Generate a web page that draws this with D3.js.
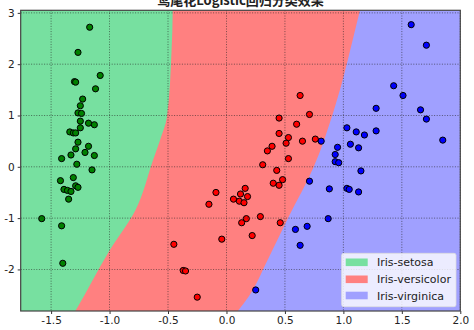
<!DOCTYPE html>
<html>
<head>
<meta charset="utf-8">
<script src="https://cdn.jsdelivr.net/npm/d3@7"></script>
<style>
  html, body { margin: 0; padding: 0; background: #fff; }
  svg { display: block; }
</style>
</head>
<body>
<svg id="chart" width="474" height="330"></svg>
<script>
// ---------------- data ----------------
const titleText = "鸢尾花Logistic回归分类效果";
const classNames = ["Iris-setosa", "Iris-versicolor", "Iris-virginica"];
const regionColors = ["#77E0A0", "#FF8080", "#A0A0FF"];
const pointColors = ["#008000", "#FF0000", "#0000FF"];

const xTicks = [-1.5, -1.0, -0.5, 0.0, 0.5, 1.0, 1.5, 2.0];
const yTicks = [-2, -1, 0, 1, 2, 3];

const setosaX = [-1.17,-1.27,-1.08,-1.30,-1.29,-1.12,-1.23,-1.25,-1.27,-1.24,-1.25,-1.18,-1.13,-1.25,-1.34,-1.31,-1.29,-1.27,-1.18,-1.29,-1.21,-1.33,-1.13,-1.41,-1.28,-1.15,-1.42,-1.31,-1.39,-1.36,-1.33,-1.29,-1.27,-1.35,-1.58,-1.41,-1.40];
const setosaY = [2.72,2.23,1.78,1.66,1.65,1.52,1.32,1.19,1.05,1.04,0.89,0.85,0.82,0.76,0.68,0.66,0.66,0.48,0.40,0.35,0.28,0.23,0.22,0.16,0.05,-0.06,-0.27,-0.21,-0.44,-0.46,-0.48,-0.37,-0.40,-0.63,-1.01,-1.15,-1.88];

const versicolorX = [0.63,0.71,0.45,0.60,0.45,0.53,0.51,0.65,0.76,0.39,0.35,0.53,0.31,0.43,0.48,0.40,0.45,0.16,-0.09,0.12,0.18,0.06,0.11,0.15,-0.15,0.29,0.17,0.13,0.46,-0.04,0.22,-0.45,-0.37,-0.35,-0.25];
const versicolorY = [1.39,1.02,0.95,0.83,0.65,0.57,0.46,0.50,0.54,0.40,0.31,0.16,0.04,-0.07,-0.25,-0.32,-0.36,-0.42,-0.50,-0.53,-0.58,-0.63,-0.67,-0.70,-0.73,-0.97,-1.01,-1.09,-1.09,-1.41,-1.34,-1.51,-2.02,-2.03,-2.54];

const virginicaX = [1.58,1.71,1.43,1.51,1.28,1.66,1.71,1.03,1.11,1.18,1.28,1.85,0.81,0.95,1.06,1.13,0.93,0.93,0.96,1.15,0.71,0.88,1.03,1.05,1.13,0.87,0.59,0.69,0.63,0.25];
const virginicaY = [2.77,2.37,1.58,1.39,1.14,1.11,0.93,0.76,0.68,0.62,0.70,0.52,0.50,0.38,0.44,0.37,0.24,0.10,0.08,-0.08,-0.28,-0.43,-0.42,-0.44,-0.49,-1.01,-1.22,-1.16,-1.53,-2.40];

// decision boundaries (x position of the boundary at each y)
const boundary1Y = [3.3, 3.03, 2.25, 0.96, 0.51, 0.12, -0.85, -1.63, -2.80, -3.1];
const boundary1X = [-0.46, -0.46, -0.47, -0.51, -0.57, -0.63, -0.78, -1.00, -1.29, -1.37];
const boundary2Y = [3.3, 3.03, 1.09, -0.01, -0.98, -1.82, -2.53, -2.80, -3.1];
const boundary2X = [1.17, 1.14, 0.917, 0.745, 0.531, 0.351, 0.189, 0.10, 0.0];

// ---------------- layout ----------------
const svg = d3.select("#chart");
const pLeft = 20.7, pRight = 460.3, pTop = 10.3, pBottom = 311;
const xDomain = [-1.76, 2.0];
const yDomain = [-2.81, 3.05];
const x = d3.scaleLinear().domain(xDomain).range([pLeft, pRight]);
const y = d3.scaleLinear().domain(yDomain).range([pBottom, pTop]);

svg.append("defs").append("clipPath").attr("id", "plotclip")
  .append("rect").attr("x", pLeft).attr("y", pTop)
  .attr("width", pRight - pLeft).attr("height", pBottom - pTop);

const plot = svg.append("g").attr("clip-path", "url(#plotclip)");

// regions
plot.append("rect").attr("x", pLeft).attr("y", pTop)
  .attr("width", pRight - pLeft).attr("height", pBottom - pTop)
  .attr("fill", regionColors[2]);

const areaGen = d3.area()
  .curve(d3.curveMonotoneY)
  .y(d => y(d[1]))
  .x0(x(xDomain[0]) - 5)
  .x1(d => x(d[0]));

plot.append("path").datum(d3.zip(boundary2X, boundary2Y))
  .attr("d", areaGen).attr("fill", regionColors[1]);
plot.append("path").datum(d3.zip(boundary1X, boundary1Y))
  .attr("d", areaGen).attr("fill", regionColors[0]);

// grid
const grid = svg.append("g");
xTicks.forEach(t => {
  grid.append("line").attr("x1", x(t)).attr("x2", x(t)).attr("y1", pTop).attr("y2", pBottom)
    .attr("stroke", "#222").attr("stroke-width", 0.8).attr("stroke-dasharray", "1,1.6").attr("opacity", 0.75);
});
yTicks.forEach(t => {
  grid.append("line").attr("x1", pLeft).attr("x2", pRight).attr("y1", y(t)).attr("y2", y(t))
    .attr("stroke", "#222").attr("stroke-width", 0.8).attr("stroke-dasharray", "1,1.6").attr("opacity", 0.75);
});

// points
const series = [
  d3.zip(setosaX, setosaY),
  d3.zip(versicolorX, versicolorY),
  d3.zip(virginicaX, virginicaY)
];
series.forEach((pts, i) => {
  plot.append("g").selectAll("circle").data(pts).join("circle")
    .attr("cx", d => x(d[0])).attr("cy", d => y(d[1])).attr("r", 3.1)
    .attr("fill", pointColors[i]).attr("stroke", "#000").attr("stroke-width", 1);
});

// axes
const fmtX = d => d3.format(".1f")(d).replace("−", "-");
const xAxis = d3.axisBottom(x).tickValues(xTicks).tickFormat(fmtX).tickSize(3).tickPadding(3);
const yAxis = d3.axisLeft(y).tickValues(yTicks).tickFormat(d => String(d)).tickSize(3).tickPadding(3);

const gx = svg.append("g").attr("transform", `translate(0,${pBottom})`).call(xAxis);
const gy = svg.append("g").attr("transform", `translate(${pLeft},0)`).call(yAxis);
[gx, gy].forEach(g => {
  g.select(".domain").remove();
  g.selectAll("line").attr("stroke", "#333");
  g.selectAll("text").attr("font-family", "DejaVu Sans").attr("font-size", 10.5).attr("fill", "#222");
});

// frame
svg.append("rect").attr("x", pLeft).attr("y", pTop)
  .attr("width", pRight - pLeft).attr("height", pBottom - pTop)
  .attr("fill", "none").attr("stroke", "#444").attr("stroke-width", 1.2);

// title
svg.append("text").attr("x", (pLeft + pRight) / 2).attr("y", 5)
  .attr("text-anchor", "middle")
  .attr("font-family", "'Noto Sans CJK SC', 'DejaVu Sans', sans-serif")
  .attr("font-weight", "bold").attr("font-size", 13)
  .attr("fill", "#222")
  .text(titleText);

// legend
const lg = svg.append("g");
const lx = 341.7, ly = 253.3, lw = 114.3, lh = 53.4;
lg.append("rect").attr("x", lx).attr("y", ly).attr("width", lw).attr("height", lh)
  .attr("fill", "#fff").attr("fill-opacity", 0.8).attr("stroke", "#ddd").attr("stroke-width", 0.8).attr("rx", 2);
const rowY = [262.3, 279.3, 295.5];
classNames.forEach((name, i) => {
  lg.append("rect").attr("x", 345.7).attr("y", rowY[i] - 3.8).attr("width", 22).attr("height", 7.6)
    .attr("fill", regionColors[i]);
  lg.append("text").attr("x", 377).attr("y", rowY[i] + 4)
    .attr("font-family", "DejaVu Sans").attr("font-size", 11).attr("fill", "#222")
    .text(name);
});
</script>
</body>
</html>
